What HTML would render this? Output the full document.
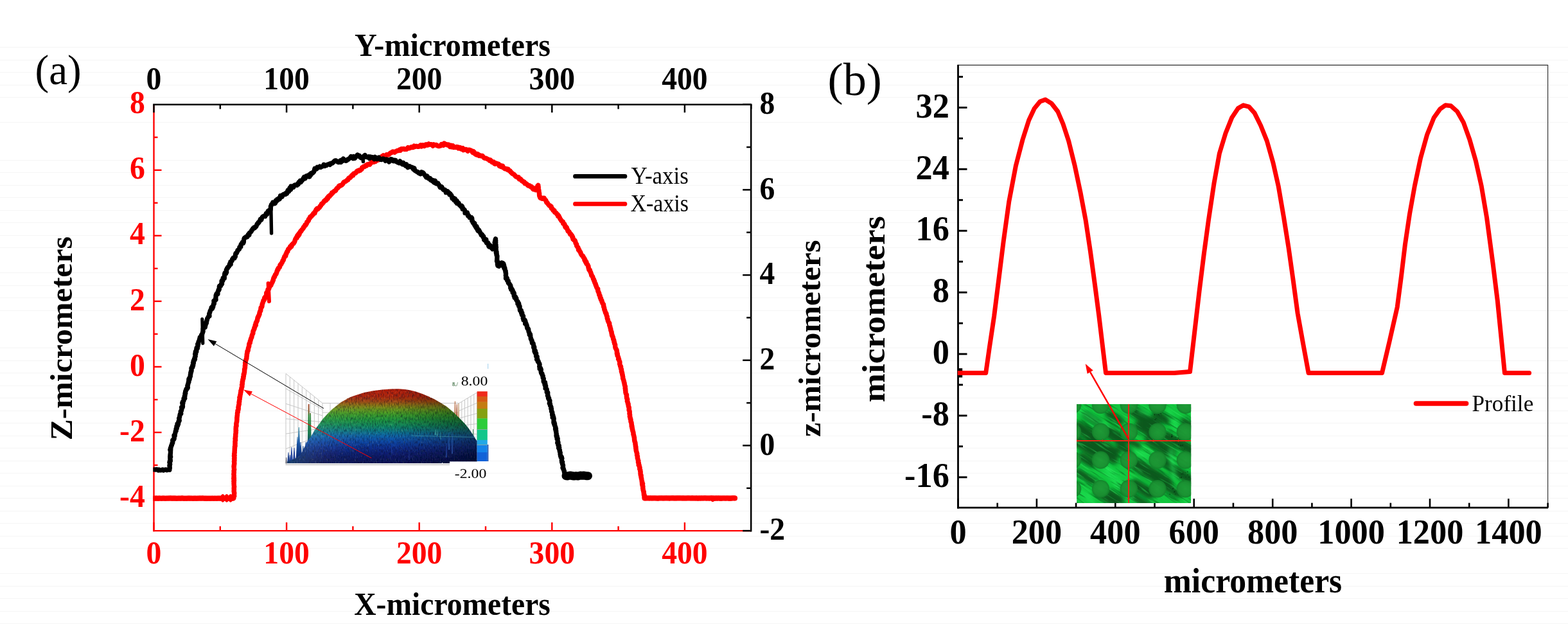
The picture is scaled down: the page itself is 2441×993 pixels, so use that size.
<!DOCTYPE html>
<html lang="en"><head><meta charset="utf-8"><title>Figure: surface profiles</title>
<style>html,body{margin:0;padding:0;background:#fff;}svg{display:block;}text{font-family:'Liberation Serif', 'DejaVu Serif', serif;}.tb{font-weight:bold;font-size:46px;}.lb{font-weight:bold;font-size:46px;}.lg{font-size:34px;}.pn{font-size:66px;}.sm{font-size:22.5px;}</style>
</head><body>
<svg width="2441" height="993" viewBox="0 0 2441 993" role="img" aria-label="Surface profile charts (a) and (b)">
<rect width="2441" height="993" fill="#fff"/>
<g id="stripes" stroke="#f5f5f5" stroke-width="1" shape-rendering="crispEdges">
<line x1="0" y1="73.5" x2="2441" y2="73.5"/>
<line x1="0" y1="93.5" x2="2441" y2="93.5"/>
<line x1="0" y1="112.5" x2="2441" y2="112.5"/>
<line x1="0" y1="132.5" x2="2441" y2="132.5"/>
<line x1="0" y1="151.5" x2="2441" y2="151.5"/>
<line x1="0" y1="190.5" x2="2441" y2="190.5"/>
<line x1="0" y1="249.5" x2="2441" y2="249.5"/>
<line x1="0" y1="268.5" x2="2441" y2="268.5"/>
<line x1="0" y1="288.5" x2="2441" y2="288.5"/>
<line x1="0" y1="307.5" x2="2441" y2="307.5"/>
<line x1="0" y1="327.5" x2="2441" y2="327.5"/>
<line x1="0" y1="346.5" x2="2441" y2="346.5"/>
<line x1="0" y1="366.5" x2="2441" y2="366.5"/>
<line x1="0" y1="385.5" x2="2441" y2="385.5"/>
<line x1="0" y1="424.5" x2="2441" y2="424.5"/>
<line x1="0" y1="444.5" x2="2441" y2="444.5"/>
<line x1="0" y1="463.5" x2="2441" y2="463.5"/>
<line x1="0" y1="483.5" x2="2441" y2="483.5"/>
<line x1="0" y1="541.5" x2="2441" y2="541.5"/>
<line x1="0" y1="561.5" x2="2441" y2="561.5"/>
<line x1="0" y1="580.5" x2="2441" y2="580.5"/>
<line x1="0" y1="600.5" x2="2441" y2="600.5"/>
<line x1="0" y1="619.5" x2="2441" y2="619.5"/>
<line x1="0" y1="639.5" x2="2441" y2="639.5"/>
<line x1="0" y1="658.5" x2="2441" y2="658.5"/>
<line x1="0" y1="678.5" x2="2441" y2="678.5"/>
<line x1="0" y1="697.5" x2="2441" y2="697.5"/>
<line x1="0" y1="717.5" x2="2441" y2="717.5"/>
<line x1="0" y1="736.5" x2="2441" y2="736.5"/>
<line x1="0" y1="756.5" x2="2441" y2="756.5"/>
<line x1="0" y1="775.5" x2="2441" y2="775.5"/>
<line x1="0" y1="795.5" x2="2441" y2="795.5"/>
<line x1="0" y1="814.5" x2="2441" y2="814.5"/>
<line x1="0" y1="834.5" x2="2441" y2="834.5"/>
<line x1="0" y1="853.5" x2="2441" y2="853.5"/>
<line x1="0" y1="892.5" x2="2441" y2="892.5"/>
<line x1="0" y1="912.5" x2="2441" y2="912.5"/>
<line x1="0" y1="931.5" x2="2441" y2="931.5"/>
<line x1="0" y1="951.5" x2="2441" y2="951.5"/>
<line x1="0" y1="970.5" x2="2441" y2="970.5"/>
</g>
<g id="chartA">
<g stroke="#f00" stroke-width="2.4" fill="none" stroke-linecap="butt">
<line x1="239.5" y1="162.7" x2="239.5" y2="827.3"/>
<line x1="238.3" y1="826.1" x2="1169.2" y2="826.1"/>
<line x1="239.5" y1="826.1" x2="239.5" y2="813.1"/>
<line x1="342.8" y1="826.1" x2="342.8" y2="819.1"/>
<line x1="446.1" y1="826.1" x2="446.1" y2="813.1"/>
<line x1="549.4" y1="826.1" x2="549.4" y2="819.1"/>
<line x1="652.7" y1="826.1" x2="652.7" y2="813.1"/>
<line x1="756" y1="826.1" x2="756" y2="819.1"/>
<line x1="859.3" y1="826.1" x2="859.3" y2="813.1"/>
<line x1="962.6" y1="826.1" x2="962.6" y2="819.1"/>
<line x1="1065.9" y1="826.1" x2="1065.9" y2="813.1"/>
<line x1="239.5" y1="775.1" x2="251.5" y2="775.1"/>
<line x1="239.5" y1="724" x2="245.5" y2="724"/>
<line x1="239.5" y1="673" x2="251.5" y2="673"/>
<line x1="239.5" y1="622" x2="245.5" y2="622"/>
<line x1="239.5" y1="570.9" x2="251.5" y2="570.9"/>
<line x1="239.5" y1="519.9" x2="245.5" y2="519.9"/>
<line x1="239.5" y1="468.9" x2="251.5" y2="468.9"/>
<line x1="239.5" y1="417.9" x2="245.5" y2="417.9"/>
<line x1="239.5" y1="366.8" x2="251.5" y2="366.8"/>
<line x1="239.5" y1="315.8" x2="245.5" y2="315.8"/>
<line x1="239.5" y1="264.8" x2="251.5" y2="264.8"/>
<line x1="239.5" y1="213.7" x2="245.5" y2="213.7"/>
</g>
<g stroke="#000" stroke-width="2.5" fill="none" stroke-linecap="butt">
<line x1="238.2" y1="162.7" x2="1170.5" y2="162.7"/>
<line x1="1169.2" y1="162.7" x2="1169.2" y2="827.4"/>
<line x1="239.5" y1="162.7" x2="239.5" y2="175.2"/>
<line x1="342.8" y1="162.7" x2="342.8" y2="169.7"/>
<line x1="446.1" y1="162.7" x2="446.1" y2="175.2"/>
<line x1="549.4" y1="162.7" x2="549.4" y2="169.7"/>
<line x1="652.7" y1="162.7" x2="652.7" y2="175.2"/>
<line x1="756" y1="162.7" x2="756" y2="169.7"/>
<line x1="859.3" y1="162.7" x2="859.3" y2="175.2"/>
<line x1="962.6" y1="162.7" x2="962.6" y2="169.7"/>
<line x1="1065.9" y1="162.7" x2="1065.9" y2="175.2"/>
<line x1="1169.2" y1="162.7" x2="1169.2" y2="169.7"/>
<line x1="1169.2" y1="826.1" x2="1156.2" y2="826.1"/>
<line x1="1169.2" y1="759.8" x2="1162.2" y2="759.8"/>
<line x1="1169.2" y1="693.4" x2="1156.2" y2="693.4"/>
<line x1="1169.2" y1="627.1" x2="1162.2" y2="627.1"/>
<line x1="1169.2" y1="560.7" x2="1156.2" y2="560.7"/>
<line x1="1169.2" y1="494.4" x2="1162.2" y2="494.4"/>
<line x1="1169.2" y1="428.1" x2="1156.2" y2="428.1"/>
<line x1="1169.2" y1="361.7" x2="1162.2" y2="361.7"/>
<line x1="1169.2" y1="295.4" x2="1156.2" y2="295.4"/>
<line x1="1169.2" y1="229" x2="1162.2" y2="229"/>
<line x1="1169.2" y1="162.7" x2="1156.2" y2="162.7"/>
</g>
<text transform="translate(239.5 138.9) scale(1.0 1.045)" font-size="47.7" font-weight="bold" fill="#000" text-anchor="middle">0</text>
<text transform="translate(239.5 876.6) scale(1.0 1.045)" font-size="47.7" font-weight="bold" fill="#f00" text-anchor="middle">0</text>
<text transform="translate(446.1 138.9) scale(1.0 1.045)" font-size="47.7" font-weight="bold" fill="#000" text-anchor="middle">100</text>
<text transform="translate(446.1 876.6) scale(1.0 1.045)" font-size="47.7" font-weight="bold" fill="#f00" text-anchor="middle">100</text>
<text transform="translate(652.7 138.9) scale(1.0 1.045)" font-size="47.7" font-weight="bold" fill="#000" text-anchor="middle">200</text>
<text transform="translate(652.7 876.6) scale(1.0 1.045)" font-size="47.7" font-weight="bold" fill="#f00" text-anchor="middle">200</text>
<text transform="translate(859.3 138.9) scale(1.0 1.045)" font-size="47.7" font-weight="bold" fill="#000" text-anchor="middle">300</text>
<text transform="translate(859.3 876.6) scale(1.0 1.045)" font-size="47.7" font-weight="bold" fill="#f00" text-anchor="middle">300</text>
<text transform="translate(1065.9 138.9) scale(1.0 1.045)" font-size="47.7" font-weight="bold" fill="#000" text-anchor="middle">400</text>
<text transform="translate(1065.9 876.6) scale(1.0 1.045)" font-size="47.7" font-weight="bold" fill="#f00" text-anchor="middle">400</text>
<text transform="translate(225.8 788.7) scale(1.0 1.045)" font-size="47.7" font-weight="bold" fill="#f00" text-anchor="end">-4</text>
<text transform="translate(225.8 686.6) scale(1.0 1.045)" font-size="47.7" font-weight="bold" fill="#f00" text-anchor="end">-2</text>
<text transform="translate(225.8 584.5) scale(1.0 1.045)" font-size="47.7" font-weight="bold" fill="#f00" text-anchor="end">0</text>
<text transform="translate(225.8 482.5) scale(1.0 1.045)" font-size="47.7" font-weight="bold" fill="#f00" text-anchor="end">2</text>
<text transform="translate(225.8 380.4) scale(1.0 1.045)" font-size="47.7" font-weight="bold" fill="#f00" text-anchor="end">4</text>
<text transform="translate(225.8 278.4) scale(1.0 1.045)" font-size="47.7" font-weight="bold" fill="#f00" text-anchor="end">6</text>
<text transform="translate(225.8 176.3) scale(1.0 1.045)" font-size="47.7" font-weight="bold" fill="#f00" text-anchor="end">8</text>
<text transform="translate(1182.4 840.3) scale(1.0 1.045)" font-size="47.7" font-weight="bold" fill="#000" text-anchor="start">-2</text>
<text transform="translate(1182.4 707.6) scale(1.0 1.045)" font-size="47.7" font-weight="bold" fill="#000" text-anchor="start">0</text>
<text transform="translate(1182.4 574.9) scale(1.0 1.045)" font-size="47.7" font-weight="bold" fill="#000" text-anchor="start">2</text>
<text transform="translate(1182.4 442.3) scale(1.0 1.045)" font-size="47.7" font-weight="bold" fill="#000" text-anchor="start">4</text>
<text transform="translate(1182.4 309.6) scale(1.0 1.045)" font-size="47.7" font-weight="bold" fill="#000" text-anchor="start">6</text>
<text transform="translate(1182.4 176.9) scale(1.0 1.045)" font-size="47.7" font-weight="bold" fill="#000" text-anchor="start">8</text>
<text transform="translate(704.5 87) scale(1.0 1.045)" font-size="48.2" font-weight="bold" fill="#000" text-anchor="middle">Y-micrometers</text>
<text transform="translate(704 957) scale(1.0 1.045)" font-size="47.6" font-weight="bold" fill="#000" text-anchor="middle">X-micrometers</text>
<text transform="translate(112.3 526.8) rotate(-90) scale(1.05 1.0)" font-size="47.5" font-weight="bold" fill="#000" text-anchor="middle">Z-micrometers</text>
<text transform="translate(1277 526.8) rotate(-90) scale(1.05 1.0)" font-size="47.5" font-weight="bold" fill="#000" text-anchor="middle">z-micrometers</text>
<text transform="translate(54.5 131.3)" font-size="65" font-weight="normal" fill="#000" text-anchor="start">(a)</text>
<defs><clipPath id="clipA"><rect x="238.4" y="162.7" width="930.7" height="663.4"/></clipPath></defs>
<g fill="none" stroke-linejoin="round" stroke-linecap="round">
<g clip-path="url(#clipA)">
<path d="M239.7 775.6 L241 775.5 L242.3 775.7 L243.6 775.2 L244.9 775.8 L246.2 776 L247.5 775.2 L248.8 775.4 L250.1 775.6 L251.4 775.9 L252.7 775.4 L254 775.3 L255.3 775.4 L256.6 775.8 L257.9 775.9 L259.2 775.6 L260.5 775.5 L261.8 775.5 L263.1 775.3 L264.4 775.3 L265.7 775 L267 775.4 L268.3 775.8 L269.6 775.3 L270.9 775.7 L272.2 775.3 L273.5 775.8 L274.8 776 L276.1 775.8 L277.4 775.6 L278.7 775.5 L280 775.6 L281.3 775.8 L282.6 775.2 L283.9 775.1 L285.2 775.7 L286.5 776 L287.8 775.7 L289.1 775.7 L290.4 776 L291.7 775.5 L293 775.5 L294.3 775.3 L295.6 775.7 L296.9 775.5 L298.2 775.5 L299.5 775.9 L300.8 776.1 L302.1 775.5 L303.4 775.8 L304.7 775.5 L306 775.9 L307.3 775.7 L308.6 775.4 L309.9 775.4 L311.2 775.2 L312.5 775.5 L313.8 775.4 L315.1 775.1 L316.4 775.4 L317.7 775.4 L319 775.9 L320.3 775.4 L321.6 776.2 L322.9 775.7 L324.2 775.9 L325.5 775.7 L326.8 776 L328.1 776 L329.4 775.7 L330.7 775.6 L332 775.9 L333.3 776 L334.6 775.6 L335.9 775.9 L337.2 776.1 L338.5 775.7 L339.8 775.4 L341.1 775.4 L342.4 775.7 L343.7 775.6 L345 775.8 L346.4 775.8 L347.7 775.3 L349.1 775.3 L350.4 775.4 L351.8 775.3 L353.1 775.8 L354.5 775.9 L355.9 775.9 L357.2 775.2 L358.6 775.7 L359.9 775.2 L361.3 775.2 L362.6 775.5 L363.9 774.9 L363.9 772.9 L364.7 772.2 L364.4 770.4 L364.5 769.2 L364.7 768.2 L364.7 766.9 L364.2 764.9 L364.3 763.8 L364.3 762.5 L364.4 761.2 L364.2 759.7 L364.4 758.7 L364.6 757.7 L364.3 755.9 L364.3 754.7 L364.1 753 L364.1 751.8 L364.3 750.8 L363.9 748.9 L364.4 748.2 L364.4 746.9 L363.8 744.8 L364.4 744.3 L364 742.4 L364.2 741.4 L364.2 740 L363.9 738.1 L364.1 737.1 L364.2 735.8 L364.3 734.6 L364.1 732.8 L364.4 732 L364.6 730.8 L364.4 729.1 L364.3 727.6 L364.1 725.8 L364.4 724.9 L364.4 723.5 L364.7 722.5 L364.8 721.2 L364.7 719.7 L364.5 718 L364.9 717.1 L364.9 715.7 L364.6 713.8 L365 713.1 L364.9 711.4 L364.5 709.5 L365.1 709 L364.7 706.9 L364.8 705.7 L365.2 704.8 L365.1 703.3 L365.2 701.9 L365.3 700.7 L365.3 699.3 L365.4 697.9 L365.5 696.5 L365.5 695.1 L366 694.4 L366 693 L365.9 691.4 L366.1 690.2 L366 688.5 L366 687.1 L366.2 685.9 L366.6 685 L366.1 682.8 L366.5 681.9 L366.4 680.2 L366.8 679.4 L366.7 677.7 L366.8 676.4 L366.9 675.1 L367.1 673.9 L367.3 672.8 L367.1 671 L367.5 670.1 L367.1 668 L367.3 666.8 L367.3 665.3 L367.4 664 L368 663.3 L368 662 L367.8 660.1 L368 658.7 L368.2 657.6 L368.6 656.5 L368.7 655.2 L368.8 653.7 L368.9 652.2 L368.8 650.4 L369.1 649.3 L369.1 647.7 L369.4 646.6 L369.5 645.2 L369.5 643.4 L369.7 642.1 L370.3 641.4 L370 639.2 L370.7 638.8 L370.9 637.5 L371.2 636.2 L371 634.1 L371.3 633 L371.5 631.6 L371.7 630.4 L372.2 629.4 L372.2 627.7 L372.1 625.9 L372.7 625.1 L372.6 623.3 L372.9 622 L373.2 620.8 L372.9 618.5 L373.6 618 L373.7 616.5 L373.9 615.1 L374.2 613.9 L374.5 612.6 L374.6 611 L375 610.1 L374.9 608.2 L375.5 607.4 L375.8 606.2 L375.9 604.6 L376.2 603.4 L376.7 602.6 L376.9 601.1 L376.6 598.8 L377.2 598.2 L377.3 596.6 L377.2 594.6 L377.7 593.6 L377.8 592.2 L378 590.6 L378.5 589.8 L378.9 588.8 L378.7 586.7 L379.3 585.9 L379.4 584.5 L379.3 582.6 L380 582.2 L380.1 580.6 L380.5 579.6 L380.5 577.9 L380.7 576.6 L380.6 574.7 L381.1 573.9 L381.3 572.6 L381.5 571.1 L381.4 569.3 L381.8 568.2 L381.8 566.5 L381.7 564.7 L382 563.4 L382.3 562.3 L382.7 561.2 L382.9 559.9 L383.4 559 L383.8 557.9 L383.9 556.4 L384 554.9 L384.3 553.7 L384.3 551.8 L384.5 550.5 L384.9 549.5 L385 547.8 L385.1 546.3 L386 546.1 L386.3 544.5 L386.4 542.6 L386.8 541.2 L387.3 540 L387.7 538.7 L387.8 536.8 L388 535.1 L388.5 534 L389.3 533.4 L389.3 531.2 L389.9 530.4 L390.2 528.7 L390.6 527.5 L391.1 526.1 L391.7 525.2 L392 523.6 L392.3 522.1 L392.8 520.9 L393.2 519.7 L393.8 518.7 L393.9 516.6 L394.2 515.1 L394.8 514.2 L395.3 512.8 L395.9 512 L396 509.9 L396.7 509.2 L397.1 507.8 L397.3 505.9 L398.3 505.8 L398.2 503.3 L398.6 501.9 L399.4 501.3 L399.7 499.7 L400.4 499.1 L400.7 497.4 L400.9 495.7 L401.2 494.2 L402 493.8 L402.2 492 L403 491.5 L403.3 489.9 L404 489.3 L404 487.1 L404.4 485.8 L404.8 484.5 L405.6 484 L405.8 482.3 L406 480.5 L406.2 478.8 L407 478.3 L407.7 477.6 L408 475.9 L408.1 473.9 L408.6 472.6 L409 471.3 L409.5 470.1 L409.9 468.5 L410.3 467.2 L411.2 466.9 L411.8 466 L411.8 463.7 L412.8 463.7 L413 461.8 L413.8 461.2 L414.4 460.2 L414.9 458.8 L414.8 456 L415.4 455 L416.1 454.2 L416.8 453.5 L417 450.8 L417.7 450 L418.7 449.7 L418.9 447.3 L419.7 446.6 L420.3 445.3 L421.1 444.7 L421.9 443.9 L422.1 441.5 L423 441.2 L423.6 439.9 L424.2 438.7 L424.7 436.9 L425.4 436.2 L425.6 434 L426.1 432.9 L426.6 431.3 L427.4 431 L427.9 429.5 L428.3 428.1 L428.9 427 L429.8 426.7 L430.2 425.2 L430.8 424 L431.1 422.2 L431.7 421.1 L432.1 419.5 L433 419.4 L433.3 417.2 L434.3 416.8 L435.1 416.1 L435.7 414.8 L436 412.6 L436.7 411.6 L437.7 411.3 L438.2 409.7 L439 408.8 L439.6 407.6 L440.1 405.7 L441 405.3 L441.5 403.8 L441.9 401.9 L442.6 400.8 L443 399 L443.9 398.4 L444.8 398.1 L445 395.5 L445.9 395 L446.2 393 L446.8 391.7 L447.8 391.4 L448.2 389.5 L448.7 387.9 L449.5 387 L450.6 386.8 L451.3 385.7 L451.8 383.5 L452.7 382.9 L453.9 383.3 L454.3 380.8 L455.2 380.5 L456 379.2 L457 379 L457.7 377.6 L458.5 376.6 L459.1 374.8 L459.6 372.9 L460.3 371.5 L461 370.1 L462.1 370.2 L462.5 367.7 L463.2 366.3 L464.5 366.9 L464.8 364.4 L466 364.7 L466.3 362.1 L467.3 361.5 L467.9 359.8 L469 359.7 L469.6 358.2 L470.4 357.2 L471.2 356.3 L472.1 355.4 L472.6 353.4 L473.5 353 L474.2 351.8 L474.8 350.3 L475.9 350.5 L476.5 348.9 L477.3 348.1 L477.7 345.8 L478.6 345.3 L479.4 344.1 L480.2 343.5 L480.6 341.2 L481.5 340.5 L482.2 339.6 L482.7 337.6 L483.7 337.3 L484.7 336.8 L485.4 335.3 L486.4 334.8 L487.2 333.8 L487.9 332.1 L488.8 331.4 L490 331.7 L490.5 329.3 L491.3 328.3 L492 326.5 L492.8 325.6 L493.7 324.6 L495 325.3 L495.8 324 L496.7 323.5 L497.6 322.7 L498.3 320.9 L499.3 320.5 L500 318.7 L500.7 317.3 L501.8 317.2 L502.6 316 L503.6 315.1 L504.3 313.3 L505.4 313.1 L506.2 311.6 L507.5 311.9 L508.4 310.8 L509 308.5 L510.3 308.8 L510.9 306.3 L511.8 305.3 L513.1 305.7 L513.8 303.9 L514.9 303.3 L515.9 302.5 L516.6 300.2 L517.8 300.6 L518.6 298.8 L519.7 298.3 L520.6 297.2 L521.8 297.2 L522.8 296.3 L523.6 294.4 L524.5 293.1 L525.6 292.7 L526.6 291.8 L527.4 290 L528.4 289 L529.7 289.4 L530.7 288.4 L531.8 288.1 L532.8 287.2 L533.8 286.2 L534.6 284.4 L535.6 283.2 L536.7 282.8 L537.8 282.4 L538.8 281.7 L539.9 280.9 L540.8 279.7 L542 279.7 L542.7 277.4 L543.9 276.6 L545.1 276.5 L546.2 275.4 L547.2 273.5 L548.3 272.5 L549.6 272.9 L550.5 270.3 L551.6 269.7 L552.9 269.8 L554 269 L555 267.3 L556.1 266.1 L557.2 265.6 L558.5 266.1 L559.5 264.7 L560.8 265.1 L561.9 263.9 L563 263.5 L563.8 260.6 L565 260.3 L566.1 259.2 L567.3 259.5 L568.4 258.6 L569.5 257.3 L570.7 257.8 L571.7 256.1 L572.9 256 L574.2 255.3 L575.6 256.1 L576.8 254.4 L578 253.3 L579.2 252.1 L580.5 252.3 L581.8 252.2 L583.1 251.7 L584.3 251.6 L585.4 250.7 L586.4 248.9 L587.4 248 L588.8 249 L589.9 248.3 L590.9 246.7 L592.1 246.5 L593.2 244.9 L594.3 243.6 L595.5 242.8 L596.7 241.9 L598.2 242.8 L599.5 242.8 L600.7 242.2 L601.9 240.7 L603.2 240.9 L604.5 240.9 L605.7 240.1 L606.9 238.9 L608.1 237.9 L609.4 237.7 L610.6 236.4 L611.8 235.9 L613.2 236.7 L614.6 237.2 L615.7 235.9 L617 235.3 L618.2 234.7 L619.5 234.3 L620.7 234.5 L622 233.1 L623.4 234 L624.7 231.7 L626 231.8 L627.4 232 L628.7 231.5 L630.1 232.4 L631.4 232.2 L632.7 232.3 L633.9 231.3 L635.1 229.6 L636.5 230.8 L637.8 230.5 L639 229.9 L640.3 228.9 L641.8 229.5 L643.2 229.5 L644.6 227.2 L646.1 228.5 L647.5 227.5 L648.9 227.6 L650.4 228.3 L651.9 228.3 L653.3 227.2 L654.7 226 L656.2 227.8 L657.5 225.9 L659 226.4 L660.5 227.3 L661.8 225.5 L663.2 224.9 L664.7 226.1 L666.2 225.8 L667.5 224 L668.8 224.7 L670.1 225 L671.4 224.7 L672.7 225.2 L673.9 227.1 L675.3 225 L676.5 225.8 L677.8 225.7 L679.2 225.4 L680.5 226.6 L681.9 227.2 L683.3 227.5 L684.6 227 L686.1 227 L687.3 224.5 L688.8 224.8 L690.3 226.1 L691.6 223.2 L692.9 224.1 L694.2 225 L695.6 224.8 L696.8 225.9 L698.2 225.1 L699.5 226 L700.6 228.3 L702.2 226.5 L703.6 228.7 L705.1 227.1 L706.4 229.5 L707.9 229.1 L709.3 229.5 L710.9 228.6 L712.2 228.8 L713.5 230.8 L715 229.5 L716.4 229.7 L717.6 231.7 L719 232.3 L720.5 230.7 L721.6 233.6 L723 232.9 L724.3 232.8 L725.6 232.4 L726.9 233.4 L728.1 235.1 L729.5 233.3 L730.9 233.3 L732.1 233.7 L733.4 234.2 L734.6 235.3 L735.7 237.3 L737.1 235.8 L738.3 236.9 L739.4 239.5 L740.6 240.3 L741.9 241 L743.3 239.6 L744.6 240.4 L745.7 242.3 L747.1 241.7 L748.3 242.8 L749.6 242.5 L751 242.6 L752.1 244 L753.3 245.5 L754.6 246.2 L755.9 246.2 L757.2 246.6 L758.5 247.5 L759.8 247.9 L761 248.6 L762.2 250 L763.6 249.2 L764.8 250.8 L765.9 252.3 L767.2 252.9 L768.6 252.1 L769.6 254.7 L770.9 255.2 L772.4 254.1 L773.6 254.8 L774.9 255.1 L776.2 255.2 L777.2 258.1 L778.6 257.4 L779.7 259.2 L781.2 258 L782.5 258.4 L783.5 261.1 L784.8 261.6 L786 262.7 L787.3 262.6 L788.6 262.8 L789.8 264 L791.1 263.3 L792 265.2 L793.1 265.8 L794.2 266 L795.1 268 L796.2 268.4 L797.1 269.8 L798.2 270.5 L799.3 271 L800.4 271.7 L801.4 272.8 L802.5 274.3 L803.6 275 L804.8 275.5 L806 276.2 L807.3 275.9 L808.2 278.6 L809.5 278 L810.7 278.8 L811.6 280.6 L812.7 281.9 L813.9 281.8 L815 283.3 L816.2 283.2 L817.1 285.6 L818.4 285.3 L819.5 286.2 L820.6 286.9 L821.6 288.3 L822.7 289.2 L824.1 288.7 L825.2 289.4 L826.2 290.8 L827.5 290.5 L828.5 292.2 L829.5 294 L830.7 294.7 L832.5 293.2 L834.1 295.6 L835.8 294.5 L836.6 293.7 L836.7 291.1 L837 289.3 L837.8 288.4 L837.7 290.3 L838.2 291.3 L838 293.3 L838.3 294.6 L838.7 295.7 L838.9 297.1 L839 298.7 L839.3 300 L839.6 301.4 L839.6 303.1 L839.8 304.8 L840.2 305.8 L840.8 306.7 L840.9 307.9 L842.3 308.4 L843.8 309.2 L845.4 308.2 L847.1 308.3 L847.9 310 L848.7 311 L849.7 311.5 L850.3 313.5 L851 315.2 L852 315.4 L852.7 316.8 L853.5 317.9 L854.4 318.9 L855.2 320 L856.3 320 L857 321.6 L858.1 321.6 L858.5 324.3 L859.5 324.4 L860.3 325.6 L861 327.4 L862.1 327.1 L863 327.8 L863.5 330.2 L864.4 330.9 L865.5 331.1 L866.3 332.1 L867 333.5 L868.1 333.7 L868.6 336.2 L869.8 335.9 L870.5 337.4 L871.3 339 L872 340.6 L872.8 341.6 L873.6 343 L874.4 344.1 L875.4 344.7 L876.4 345.2 L876.8 348 L877.6 348.6 L878.7 348.7 L879.2 350.6 L879.7 352.3 L880.3 353.8 L881.5 353.3 L882.3 354.3 L882.8 356.4 L883.5 357.4 L884 359.4 L884.8 360.3 L885.8 360.5 L886.5 361.7 L887.1 363.1 L887.7 364.7 L888.9 364.5 L889.6 365.9 L890.5 366.5 L890.8 368.9 L891.8 369.2 L892 372.2 L893 372.6 L893.7 373.8 L894.7 373.9 L895.4 375.3 L895.9 376.9 L896.2 378.7 L896.9 379.4 L897.6 380.2 L897.7 382.6 L898.4 383.4 L899 384.4 L899.8 385.2 L900.3 386.5 L900.5 388.6 L901.5 388.5 L902 390.3 L902.7 391.6 L903.5 392.2 L904 394.1 L904.6 395.5 L905.3 396.6 L906.1 397.7 L907 398 L907.8 398.9 L908.3 400.7 L909.1 401.5 L909.8 402.4 L910 404.7 L911 404.8 L911.3 406.9 L911.8 408.3 L912.9 408.1 L913.1 410.6 L914 411 L914.7 411.9 L915.2 413.2 L915.9 414.3 L916 416.4 L916.5 417.5 L916.8 419.4 L917.3 420.5 L918.3 420.4 L918.6 422.1 L919.1 423.3 L919.7 424.3 L920.1 425.7 L920.6 426.9 L920.8 428.7 L921.6 429.3 L922.3 430.1 L922.8 431.4 L923.3 433 L923.7 434.3 L924.5 435 L924.7 437 L925.5 437.6 L925.8 439.6 L926.3 440.8 L927.1 441.4 L927.3 443.6 L928 444.3 L928.3 445.9 L928.8 447.1 L929.3 448.2 L930 449 L930.7 449.6 L930.7 452 L931.1 453.5 L931.7 454.3 L932.1 455.8 L932.7 456.6 L932.8 458.8 L933.4 459.8 L934.1 460.3 L934.2 462.5 L934.6 464 L935.5 464.3 L935.5 466.5 L936.3 467 L936.9 467.9 L937 469.9 L937.8 470.6 L938.1 472.3 L938.7 473.1 L939.5 473.6 L939.6 475.6 L939.8 477.5 L940.4 478.5 L940.7 480 L940.9 481.9 L941.5 482.7 L941.9 484.1 L942.3 485.6 L942.6 487.1 L943.5 487.4 L944 488.5 L944.1 490.6 L944.6 491.7 L945.2 492.8 L945.2 495 L945.6 496.3 L946.3 497.2 L946.4 499.2 L946.9 500.3 L947.4 501.5 L948.1 502.3 L948.7 503.3 L948.7 505.6 L949.1 507 L949.6 507.8 L949.9 509.3 L950.2 510.8 L950.7 511.7 L950.8 513.7 L951.2 514.9 L951.6 516 L952.1 517 L952.1 519 L952.6 520.1 L952.6 522 L953.4 522.5 L953.7 524 L954.3 524.9 L954.5 526.4 L954.8 528 L955.4 528.7 L955.8 530 L955.9 532 L956.5 532.9 L956.6 534.7 L957.2 535.6 L957.6 536.8 L957.7 538.8 L957.9 540.6 L958.3 541.9 L958.9 542.8 L959.4 543.9 L960 544.8 L960.2 546.4 L960.5 548 L960.4 550.4 L961.3 550.8 L961.1 553.4 L961.8 554.1 L962.2 555.3 L962.7 556.4 L962.6 558.6 L963.5 558.8 L963.6 560.5 L964.1 561.6 L964.6 562.5 L964.9 563.9 L964.7 566.4 L965.1 567.5 L965.5 568.8 L965.7 570.3 L966.6 570.6 L966.5 572.6 L966.7 574 L967.4 574.6 L967.5 576.1 L967.4 578.1 L968.1 578.6 L968.1 580.4 L968.7 580.9 L968.7 582.9 L969.2 583.7 L969.3 585.3 L969.7 586.6 L969.7 588.7 L970.1 589.9 L970.6 590.9 L970.9 592.5 L971.4 593.6 L971.5 595.4 L972.1 596.1 L972.1 597.7 L972.4 599.1 L972.7 600.2 L973.2 601.2 L973.3 602.7 L973.2 604.6 L973.7 605.5 L973.6 607.5 L973.9 608.6 L973.9 610.5 L974.2 611.7 L974.6 612.9 L975.1 613.7 L975.5 614.7 L975.4 616.8 L975.6 618.5 L975.7 620.1 L976.4 620.6 L976.7 621.9 L976.4 624.3 L976.8 625.3 L977.3 626.3 L977.4 627.9 L978.1 628.5 L978.1 630.3 L978.3 631.7 L978.5 632.9 L979.1 633.7 L979.3 635 L979.2 636.9 L979.2 638.6 L979.8 639.1 L980.1 640.3 L980.2 641.7 L980 643.9 L980.4 644.8 L980.6 646.3 L980.4 648.3 L980.8 649.2 L981.2 650.2 L981.2 652.1 L981.9 652.6 L982 654.3 L982 656.2 L982.6 656.8 L983 657.9 L983 659.8 L983.4 660.9 L983.2 663.1 L984 663.5 L983.8 665.8 L984.4 666.6 L984.4 668.4 L984.9 669.3 L985 670.9 L985.5 671.8 L985.8 673 L986 674.6 L986 676.3 L986.5 677.1 L986.8 678.3 L987 679.8 L987.4 680.7 L987.5 682.4 L987.6 684 L987.8 685.4 L988 686.8 L988.4 687.8 L988.8 688.9 L989 690.2 L989.1 692 L989.4 693.1 L989.4 694.8 L989.9 695.8 L989.8 697.7 L990.1 698.9 L990.2 700.3 L990.4 701.8 L990.8 702.9 L991.1 704.1 L991.4 705.2 L991.8 706.2 L991.6 708.4 L992 709.4 L992.5 710.2 L992.3 712.5 L992.7 713.5 L993 714.9 L993.3 716.1 L993.8 717.1 L993.5 719.6 L994.2 719.9 L994.4 721.5 L994.2 723.6 L995.1 723.8 L995.2 725.5 L995.5 726.7 L996 727.7 L995.8 730 L996.3 730.8 L996.8 731.7 L996.7 733.6 L997.2 734.4 L997 736.6 L997.2 738.1 L997.3 739.5 L998.1 739.9 L997.9 742.1 L998.3 743.1 L998.4 744.6 L998.8 745.8 L999 747.1 L999.3 748.3 L999.3 750.1 L999.9 750.7 L999.6 753 L1000.5 753.2 L1000 755.7 L1000.7 756.2 L1000.9 757.5 L1000.7 759.7 L1001.1 760.8 L1001.1 762.4 L1001.5 763.4 L1001.7 764.8 L1002.3 765.4 L1002.2 767.4 L1002.5 768.5 L1002.4 770.3 L1003.2 770.6 L1003.3 772.1 L1003 774.1 L1003.2 775.6 L1004.6 775.1 L1005.9 775.4 L1007.2 775.2 L1008.5 775.1 L1009.8 775.3 L1011.1 775.5 L1012.4 775 L1013.7 775.3 L1015 775.6 L1016.3 775.2 L1017.6 775.4 L1018.9 775.2 L1020.2 775.3 L1021.5 775.6 L1022.8 775.7 L1024.1 775.9 L1025.4 775.5 L1026.8 775.2 L1028.1 775.3 L1029.4 775.1 L1030.7 775.2 L1032 775.5 L1033.3 775.5 L1034.6 775.2 L1035.9 775.2 L1037.2 775.1 L1038.5 775.2 L1039.8 775.4 L1041.1 775.2 L1042.4 775.7 L1043.7 775.4 L1045 775.1 L1046.3 775.2 L1047.6 774.8 L1048.9 775.5 L1050.2 775.5 L1051.5 775.2 L1052.8 775.6 L1054.1 775.1 L1055.4 775 L1056.7 774.9 L1058 774.9 L1059.3 775.3 L1060.6 775.3 L1061.9 775.4 L1063.2 774.9 L1064.5 775.6 L1065.8 775.4 L1067.1 775.4 L1068.4 775.5 L1069.7 775.3 L1071 775 L1072.3 775.1 L1073.7 775.3 L1075 775.4 L1076.3 775.6 L1077.6 774.9 L1078.9 775.6 L1080.2 775.5 L1081.5 775.4 L1082.8 775.7 L1084.1 775 L1085.4 775.7 L1086.7 775.9 L1088 775.2 L1089.3 775.6 L1090.6 775.8 L1091.9 775.1 L1093.2 775.6 L1094.5 775.6 L1095.8 775.2 L1097.1 774.9 L1098.4 775 L1099.7 775.7 L1101 775.4 L1102.3 775.4 L1103.6 775.5 L1104.9 775.8 L1106.2 775.1 L1107.5 774.8 L1108.8 775.8 L1110.1 775.3 L1111.4 775.4 L1112.7 776.1 L1114 775.4 L1115.3 775.2 L1116.6 775.9 L1117.9 775.3 L1119.2 775.3 L1120.5 776 L1121.9 775.4 L1123.2 776 L1124.5 775.5 L1125.8 775.5 L1127.1 775.4 L1128.4 775.7 L1129.7 775.7 L1131 775.5 L1132.3 775.5 L1133.6 775.4 L1134.9 775.9 L1136.2 776 L1137.5 775.9 L1138.8 775.8 L1140.1 775.1 L1141.4 775.1 L1142.7 775 L1144 775.5" stroke="#f00" stroke-width="7.5"/>
<path d="M239.7 775.6 H363 M1004.5 775.4 H1144" stroke="#f00" stroke-width="8.2"/>
<ellipse cx="346.8" cy="775.3" rx="3.6" ry="6.4" fill="#f00" stroke="none"/>
<ellipse cx="352.9" cy="775.3" rx="3.6" ry="6.4" fill="#f00" stroke="none"/>
<ellipse cx="358.9" cy="775.3" rx="3.6" ry="6.4" fill="#f00" stroke="none"/>
<ellipse cx="1109.5" cy="776.6" rx="3" ry="4.6" fill="#f00" stroke="none"/>
<path d="M417.6 441 L419 469" stroke="#f00" stroke-width="6"/>
<path d="M239.7 730.9 L241 730.9 L242.4 731 L243.7 730.7 L245.1 730.8 L246.4 731.9 L247.7 731 L249.1 731.9 L250.4 731.9 L251.8 731.4 L253.1 730.9 L254.4 732.1 L255.8 731.3 L257.1 731.1 L258.4 730.9 L259.8 731.9 L261.1 731.2 L262.5 730.9 L263.9 731.2 L263.9 729.3 L264.4 728.4 L264.1 726.4 L263.9 724.3 L264.5 723.5 L264.7 722.2 L263.9 719.6 L264.6 719.2 L264.4 717.6 L265.3 717.5 L265.3 716.1 L264.8 713.9 L264.9 712.7 L264.7 711.1 L265.7 711.1 L264.9 708.5 L265.3 707.7 L265.2 706.2 L265.5 705.3 L265.5 703.9 L265.6 702.7 L264.8 700 L265.8 699.9 L265.5 697.2 L266.1 696.5 L266.4 694.8 L266.7 693.6 L267.4 693 L267.7 691.5 L267.9 689.9 L268.7 689.5 L268.9 687.7 L268.7 685.2 L269.3 684.6 L270 683.9 L270.9 683.8 L271.2 682.5 L271.2 680.4 L271 677.8 L272.2 678.3 L272.1 676 L272.5 674.9 L272.9 673.7 L273.1 672.1 L273.4 670.6 L274.2 670.4 L274 667.9 L274.4 666.7 L275.3 666.5 L274.9 663.7 L275.4 662.6 L276.5 662.8 L276.1 659.9 L277.4 660.7 L277.7 659.3 L277.8 657.4 L277.9 655.7 L278.8 655.5 L279.3 654.5 L278.6 651.1 L279.2 650.4 L279.6 649.1 L279.8 647.5 L280 646.1 L280.3 644.6 L281.2 644.6 L281.8 643.9 L281.2 640.6 L281.6 639.5 L282.4 639.4 L282.7 638 L282.9 636.6 L282.6 634.1 L283.7 634.5 L284.3 633.8 L284.5 632.4 L284.3 630.2 L283.8 627.3 L284.9 627.8 L284.5 625 L285.2 624.7 L285.9 624.1 L286.2 622.6 L286 620.2 L286.7 619.7 L287.8 620.1 L287.2 616.7 L288 616.3 L288 614.3 L288 612.3 L288.8 612.1 L288.6 609.4 L289 608.3 L289.7 607.8 L289.8 606.1 L290.3 605 L291.3 605.2 L291.9 604.3 L292.4 603.2 L291.8 600.1 L292.5 599.4 L292.6 597.7 L293.1 596.8 L293.3 594.9 L294 594.4 L293.8 592 L293.9 590.2 L295.1 590.6 L294.9 588.2 L295.7 587.8 L295.8 586.1 L296.5 585.6 L296.3 583.4 L296.8 582.4 L296.7 580.3 L297.4 579.8 L297.3 577.8 L298.1 577.5 L298.1 575.5 L297.9 573.2 L298.4 572.2 L299 571.5 L299.8 571.4 L299.7 569.1 L300.6 569.1 L300.8 567.6 L300.5 564.9 L301.4 564.8 L301.1 562.2 L301.5 561 L302.4 560.9 L302.4 558.8 L303.5 558.9 L303.3 556.6 L303.5 554.9 L304.3 554.6 L303.7 551.3 L304.7 551.3 L304.2 548.2 L304.5 546.9 L305.8 547.5 L305.9 545.6 L305.8 543.1 L306.1 541.5 L307.4 542.2 L307.5 540 L308 539 L307.7 535.9 L308.6 535.8 L308.8 533.7 L309 532.1 L309.6 531 L310.3 530.3 L310.4 528.3 L310.9 527.1 L311.2 525.3 L312.4 526 L312.7 524.4 L313.4 523.7 L313.5 521.6 L314.5 521.6 L314.7 519.6 L315.2 518.6 L315.6 517 L316.1 516 L316.1 513.6 L316.2 511.5 L316.8 510.4 L317.5 509.8 L317.9 508.5 L319.3 509.5 L319.3 507 L320 506.4 L319.6 503 L320.5 502.9 L321.4 502.8 L321.6 500.8 L321.8 499.1 L322.4 498.1 L322.6 496 L323.3 495.1 L323.9 494 L324.5 493.2 L325 491.8 L326 491.7 L325.7 488.3 L326.2 487.2 L326.8 485.9 L327.1 484.2 L327.7 483.2 L328.2 481.9 L329 481.3 L329.1 478.9 L330.6 480.1 L330.5 477.5 L331.6 477.9 L331.9 476 L332.3 474.6 L332.5 472.5 L333.4 472.3 L332.9 468.5 L334 469 L334.3 467.1 L335.3 467.3 L336.1 466.6 L335.8 463.5 L336.1 462 L336.1 459.8 L336.6 458.7 L337 457.4 L337.9 457.2 L339 457.6 L338.9 455 L339.3 453.6 L339.9 452.8 L340.1 451.1 L341.1 451 L341.4 449.4 L341.3 446.2 L341.7 444.9 L342.7 444.9 L343.7 444.8 L344 443.1 L344.5 441.6 L345.6 441.9 L345 437.7 L345.6 436.5 L346.8 437.1 L347 434.9 L347.2 432.8 L348.3 433.1 L349.3 433.2 L349.3 430.4 L349.5 428.5 L349.7 426.3 L350.1 424.8 L351.6 426 L351.7 423.6 L352.7 423.7 L352.3 420 L353.1 419.4 L353.4 417.7 L354.4 417.5 L354.6 415.6 L355.5 415.3 L356.3 414.8 L357 413.7 L357.3 411.7 L357.8 410.2 L359.2 411.5 L358.9 407.6 L359.9 407.5 L360.5 406.3 L361.3 405.8 L361.6 403.5 L362.4 403.2 L362.9 401.5 L364 401.7 L365 401.8 L365.4 399.7 L366.4 399.3 L366.5 396.1 L367 394.2 L368.2 394.4 L368.8 392.7 L369.5 391.5 L370 389.5 L371 389.1 L371.8 388.2 L372.7 387.6 L372.9 384.6 L373.8 383.9 L374.9 384 L375 381 L375.7 379.6 L376.7 379.1 L377.2 377.3 L378.6 378.4 L379.3 377.1 L379.5 374 L379.9 371.8 L380.7 370.1 L381.8 369.9 L382.7 368.6 L384 369 L385.1 368.7 L385.7 366.4 L386.5 364.7 L387.9 365.8 L388.3 362.5 L389.3 361.9 L390.3 361.1 L391.2 360.4 L391.8 358.1 L392.9 357.7 L393.6 355.7 L394.7 355.7 L395.5 354 L396.8 354.6 L397.6 353.1 L398.7 352.9 L399.4 350.9 L400.1 348.8 L401.2 348.5 L401.8 346.4 L403 346.4 L403.7 344.6 L404.7 343.5 L405.3 341.1 L406.8 342.2 L407.5 339.8 L408.3 338 L409.3 336.9 L410.4 336.5 L411.5 336 L412.9 336.7 L413.6 334.2 L414.4 332 L415.9 333.3 L416.7 331.2 L417.3 328.3 L418.3 327.9 L419 327.3 L419.8 326.9 L420.8 327 L421.3 325.8 L421.4 323.5 L421.5 321 L422.1 320.2 L422.5 318.5 L423.8 317.3 L424.8 315 L426.3 316.6 L427.7 316.8 L428.9 315.6 L429.4 312.1 L430.8 312.7 L431.5 310.2 L432.9 311.1 L433.7 309.1 L435.2 309.8 L436 308.2 L436.5 304.7 L437.7 304.6 L439.1 306.2 L439.8 303.6 L440.8 302.7 L441.8 302.2 L443.2 302.7 L444.4 302.6 L445.1 300.4 L446.6 301.2 L447.3 299 L448 296.3 L449.6 298.1 L450.2 295.2 L451 292.5 L452.6 295.1 L453.1 290 L454.5 291.5 L455.6 290.4 L456.9 291.3 L457.8 288.7 L458.9 287.9 L460.1 288.1 L461.1 287.5 L462.5 288.2 L463.3 286.3 L464.5 286.6 L465.1 283.5 L466.2 282.8 L467.1 281.4 L468.6 283.3 L469.5 281.7 L470.5 280.8 L471.4 279.1 L472.4 277.4 L473.4 275.6 L474.9 278 L475.9 276.1 L476.8 273.8 L478 273.9 L479.1 273.1 L480.6 275.1 L481.8 275 L482.3 271.5 L483.7 272.6 L484.3 269.7 L485.6 269.9 L486.7 269.5 L487.5 267.7 L488.6 267.4 L489.3 264.9 L490 262.3 L491.6 263.5 L492.9 262.9 L493.9 260.3 L495.3 260.8 L496.6 260.5 L497.8 259.2 L499.3 260.4 L500.5 259.7 L501.8 258.9 L503.1 258.7 L504.1 256.2 L505.7 258.4 L506.9 257.4 L508.2 257.6 L509.4 256.3 L510.7 255.9 L512.1 255.2 L513.6 256.3 L514.9 254.1 L516.4 254.3 L517.8 253.8 L519.1 252.2 L520.5 250.7 L521.7 249.8 L523 249.9 L524.4 251.2 L525.7 252.1 L527.1 252.7 L528.3 252.2 L529.5 250.2 L530.9 252.5 L532 249 L533.3 250.4 L534.4 247 L535.9 249.8 L537.1 249.2 L538.4 250.3 L539.7 249.8 L540.9 248.1 L542.3 248 L543.7 246.7 L545.1 245.5 L546.4 243.6 L547.9 245 L549.4 246.6 L550.7 243.5 L552.3 246.4 L553.7 244 L555.1 242.9 L556.5 241 L558 243.1 L559.4 242.4 L560.9 244.9 L562.3 246 L563.8 245.8 L565.2 244.1 L566.7 242.7 L568.1 241.5 L569.5 244.4 L571 244 L572.4 244.9 L573.9 243.8 L575.3 246.6 L576.8 244 L578.2 244.9 L579.7 244.6 L581.1 246.2 L582.4 247.6 L584 244.4 L585.3 246.9 L586.7 247.8 L588.2 245.7 L589.7 245.1 L591 247.2 L592.2 248.3 L593.5 248.5 L594.9 248 L596.2 247 L597.5 247.3 L598.7 248.2 L599.9 250.3 L601.5 248 L602.9 248.3 L604.3 250.1 L605.7 251.9 L607.3 248.3 L608.7 247.7 L610.2 248.1 L611.5 250.4 L612.9 250.8 L614.5 249.2 L615.9 249.6 L617.2 251.8 L618.7 252.6 L620.1 253.2 L621.3 253.8 L622.8 250.9 L623.9 253 L625.1 254.7 L626.3 255.6 L627.8 253.3 L628.9 256.2 L630.2 255.7 L631.3 257.9 L632.8 255.9 L633.8 259 L634.9 260.6 L636.4 259.7 L637.8 258.7 L639 259.7 L640.3 260.1 L641.5 260.4 L642.6 261.1 L643.5 263.5 L645 261.9 L645.7 265.3 L646.9 265.8 L648 266.7 L649.1 267.3 L650.3 267.6 L651.3 269 L652.4 269.7 L653.7 268.9 L654.7 270.8 L656.3 267.7 L657.4 268.2 L658.6 268.8 L659.6 270.1 L660.6 271.6 L661.6 272.8 L662.6 274.6 L663.6 275.9 L665.1 274.2 L666 276.5 L667 277.8 L668.2 277.9 L669.5 277.5 L670.3 280.2 L671.6 279.6 L672.6 281.3 L673.9 280.8 L674.8 283.2 L675.9 284.1 L677.4 281.4 L678.1 285.2 L679.2 285.9 L680.6 284.8 L681.8 285 L682.5 287.3 L683.6 287.7 L684.3 290 L685.2 291.6 L686.6 290.4 L687.7 290.9 L688.5 292.6 L689.4 294.2 L690.3 295.5 L691.5 295.6 L692.7 295.5 L693.6 296.6 L694.3 299.6 L695.6 299 L697 297.9 L697.8 300 L698.9 300 L699.6 302.7 L701 301.6 L701.7 303.6 L702.8 304 L703.4 306.2 L704 308.8 L705.3 307.9 L706.4 308.2 L706.8 311.4 L708.4 309.4 L709.1 311.5 L709.6 314.3 L711.2 312.5 L711.5 316.5 L712.7 316.1 L714 315.9 L714.7 317.7 L715.5 319.4 L716.6 320 L717.5 321.3 L718.8 320.4 L719.7 321.7 L720.1 325.3 L721.3 324.8 L722 326.3 L723.1 326.3 L723.7 328.3 L724 331.6 L725.1 331.5 L726.2 331.7 L727.5 331.1 L728 333.3 L728.5 335.6 L729.7 335.4 L730.4 336.8 L730.9 338.6 L732 338.6 L732.8 339.4 L734.1 338.6 L734.8 339.9 L734.7 343.7 L735.7 343.9 L736.1 346.5 L736.9 347.3 L737.6 348.5 L738.9 347.7 L739 351 L739.9 351.6 L740.5 353.4 L741.9 352.3 L742.1 355.4 L743.2 355.3 L743.5 358.2 L744.3 359.4 L745.8 358.2 L746.3 360.2 L747.2 361 L747.7 362.9 L748.7 363.4 L749.1 365.7 L750.5 365 L751.2 366.2 L751.7 368.4 L752.8 368.2 L753.3 370.4 L753.6 373.1 L754.4 373.9 L755.9 372.4 L756.9 372.7 L756.9 376.6 L757.5 378.3 L758.6 378.3 L759.8 378 L760.4 379.4 L760.7 382.9 L761.5 384 L763.1 381.9 L763.8 383.5 L764.4 385.4 L765.3 385.9 L766.8 387.7 L768 385.3 L769.6 386.2 L769.1 382.9 L769.7 382.2 L770.5 381.9 L770.5 380.1 L770.1 377.6 L770.4 376.3 L771.2 376 L771.1 374 L771.3 372.6 L771.5 371.8 L771.2 372.8 L770.8 374.7 L771.8 374.7 L771.4 376.6 L771.8 377.5 L771.5 379.4 L771.3 381.1 L772.1 381.3 L771.7 383.3 L771.5 385 L772.4 385 L771.7 387.5 L772.3 388.1 L772.3 389.4 L772.3 390.9 L772.2 392.5 L773.1 392.5 L772.6 394.6 L773.3 395 L773 396.8 L773.4 397.9 L774 398.3 L773.9 400.3 L773.8 402.2 L773.7 404.1 L773.5 406.2 L774.4 406.4 L774.4 408 L774.4 409.7 L774.4 411.5 L774.9 413.7 L776.6 414.4 L778.1 411.3 L779.3 410.8 L780.8 413 L781.1 408.9 L782.4 409.4 L783.3 409.8 L783.5 409.9 L784 410.9 L783.7 413.4 L784.7 413.3 L784.7 415.2 L784.7 417.1 L785.8 416.9 L786 418.5 L786.2 420 L786.5 421.2 L787.2 421.9 L787 423.9 L787.5 424.8 L787.6 426.6 L787.3 428.7 L787.7 429.7 L787.5 433.1 L788.9 432.3 L789.5 433.5 L789.5 436.3 L790.2 437.5 L791.3 437.5 L791.3 440.4 L792.1 441 L793 441.5 L793.4 443.3 L794.4 443.5 L794.9 444.9 L794.7 447.9 L795.7 448 L795.7 450.6 L797 449.9 L797.6 451.1 L798.2 452.2 L798 455.3 L798.7 456 L799.9 455.6 L800.4 456.9 L800.1 460.3 L801 460.7 L801.1 463.1 L802.6 462.1 L802.6 464.6 L803.8 464.2 L803.8 466.9 L804.6 467.6 L805.1 468.9 L806.1 469.2 L805.9 472.6 L807.3 471.6 L807.8 472.9 L807.6 476 L808.6 475.7 L809.1 477 L809.1 479.4 L809.3 481.2 L809.5 483.2 L810.1 483.9 L811.4 483.2 L811.3 485.8 L811.6 487.4 L812.8 486.8 L812.5 489.9 L813.4 490 L813.8 491.6 L814.6 492 L814.2 495.3 L815 495.8 L815 498.1 L816.1 497.9 L817 498 L817.5 499.2 L818 500.4 L817.6 503.7 L818.8 503.1 L819.3 504.2 L819.5 506.2 L820.3 506.6 L820.4 508.7 L820.7 510.4 L821.2 511.6 L822.2 511.5 L822.7 512.6 L822.8 514.7 L823.1 516.5 L823.8 517.1 L824.1 518.7 L824.2 520.9 L825.4 520.2 L825.7 521.9 L825.9 523.9 L826.2 525.4 L826.3 527.6 L827.1 528 L827.4 529.6 L828.2 530.3 L828.2 532.5 L828.5 534 L829.6 534 L830.2 534.8 L830.5 536.5 L830.8 538 L830.7 540.6 L831.8 540.5 L831.7 542.9 L832 544.4 L832 546.7 L833.4 546 L833.1 549 L834 549.2 L834.7 549.9 L834.5 552.6 L834.6 554.6 L835.3 555.4 L836.2 555.5 L835.6 559.1 L836.7 559 L836.9 561 L837.2 562.5 L838.2 562.5 L838.5 564.1 L839 565.1 L839.7 565.8 L840.1 567.4 L839.7 570.6 L840.3 571.4 L840.1 573.8 L841.5 572.8 L841.8 574.4 L842.4 575 L842 578.1 L842.4 579.2 L842.6 580.9 L843.3 581.4 L844.1 581.7 L844.1 583.7 L844.7 584.5 L845.3 585.3 L845.1 587.9 L845.7 588.5 L846.3 589.3 L846.2 591.6 L846.2 593.8 L846.7 594.9 L847.7 594.9 L848.5 595.1 L848 598.3 L849 598.2 L848.8 600.8 L849.7 601 L849.1 604.4 L850.1 604.3 L850.6 605.2 L851.2 606 L851.3 607.9 L851.2 610.1 L852.2 610 L852.8 610.9 L852.7 613.2 L852.4 615.7 L853.3 616 L853.4 617.8 L853.5 619.7 L854.6 619.4 L854.4 621.6 L855 622.4 L855.7 622.9 L856 624.1 L855.3 627.6 L856.2 627.7 L856.5 628.8 L856.4 631.1 L857.1 631.5 L857.4 632.7 L858 633.6 L857.7 636 L858.5 636.2 L858.5 638.1 L858.5 640.2 L858.9 641.2 L859.7 641.5 L859.9 643 L859.6 645.3 L859.9 646.7 L860.9 646.6 L860.2 649.7 L861.6 649 L861.9 650.3 L862.2 651.6 L862 653.8 L862 655.7 L861.9 657.7 L863 657.4 L862.7 659.9 L863.6 659.9 L863.4 662.2 L864.1 662.7 L864.3 664.2 L864.9 664.8 L864.5 667.5 L865.5 667.4 L865.1 670.1 L865.8 670.4 L865.8 672.4 L865.9 674 L866.3 675.1 L866 677.5 L866.2 679 L867.2 678.9 L867.4 680.3 L867.1 682.9 L868.2 682.7 L868 684.8 L868.3 686.3 L867.8 689 L869 688.5 L868.7 691 L868.9 692.6 L869.2 693.8 L870.3 693.5 L869.6 696.8 L870.7 696.6 L870.4 699 L870.9 699.8 L871.5 700.6 L871.3 702.7 L871.8 703.6 L872.3 704.4 L872 706.7 L872.4 707.7 L872.4 709.4 L872.9 710.1 L873.1 711.5 L874.3 711.1 L874.2 713.1 L874.9 713.3 L874.3 716.4 L874.5 717.7 L874.6 719.3 L875.7 719 L875.4 721.6 L875.7 723 L876.4 723.5 L876.6 725.1 L876 728.2 L876.4 729.2 L877.3 729.4 L877.4 731.2 L877.8 732.3 L878.4 733 L878.4 735.1 L879 735.8 L879.1 737.4 L879.6 738.4 L879.4 740.7" stroke="#000" stroke-width="7.3"/>
<path d="M881 740.7 L884.1 740.9 L887.3 739.9 L890.4 740.5 L893.5 741.1 L896.7 740.6 L899.8 741.1 L903 740.1 L906.1 740.2 L909.2 740 L912.4 740.7 L915.5 740.7" stroke="#000" stroke-width="13"/>
<path d="M314.8 496.5 L315.8 534.5" stroke="#000" stroke-width="5.2"/>
<path d="M421.9 327 L422.6 363" stroke="#000" stroke-width="5.4"/>
<path d="M565.2 245 L565.4 251.5" stroke="#000" stroke-width="5.5"/>
</g>
<path d="M895.5 274.4 H972.9" stroke="#000" stroke-width="6.8"/>
<path d="M895.5 317.4 H972.9" stroke="#f00" stroke-width="6.8"/>
</g>
<text transform="translate(982.5 286.1) scale(1.0 1.07)" font-size="35" font-weight="normal" fill="#000" text-anchor="start">Y-axis</text>
<text transform="translate(981.5 328.8) scale(0.97 1.07)" font-size="35" font-weight="normal" fill="#000" text-anchor="start">X-axis</text>
<defs>
<linearGradient id="domeG" gradientUnits="userSpaceOnUse" x1="0" y1="605" x2="0" y2="721">
<stop offset="0.000" stop-color="#ba200e"/>
<stop offset="0.103" stop-color="#b0260f"/>
<stop offset="0.172" stop-color="#a04812"/>
<stop offset="0.224" stop-color="#8c7816"/>
<stop offset="0.276" stop-color="#6c981e"/>
<stop offset="0.345" stop-color="#3e9e2a"/>
<stop offset="0.422" stop-color="#1f9640"/>
<stop offset="0.500" stop-color="#128a60"/>
<stop offset="0.569" stop-color="#107a88"/>
<stop offset="0.638" stop-color="#1064aa"/>
<stop offset="0.707" stop-color="#0f4aa8"/>
<stop offset="0.784" stop-color="#0d3090"/>
<stop offset="0.871" stop-color="#0b1e72"/>
<stop offset="1.000" stop-color="#081152"/>
</linearGradient>
<linearGradient id="domeShade" gradientUnits="userSpaceOnUse" x1="447" y1="0" x2="743" y2="0"><stop offset="0" stop-color="#3fd0c0" stop-opacity="0.22"/><stop offset="0.2" stop-color="#fff" stop-opacity="0.05"/><stop offset="0.55" stop-color="#000" stop-opacity="0"/><stop offset="0.85" stop-color="#000" stop-opacity="0.26"/><stop offset="1" stop-color="#000" stop-opacity="0.42"/></linearGradient>
<filter id="rough" x="-5%" y="-5%" width="110%" height="110%" color-interpolation-filters="sRGB"><feTurbulence type="fractalNoise" baseFrequency="0.55 0.22" numOctaves="2" seed="3" result="n"/><feColorMatrix in="n" type="matrix" values="0 0 0 0 0  0 0 0 0 0.03  0 0 0 0 0.12  1.2 0 0 0 -0.52" result="a"/><feComposite in="a" in2="SourceGraphic" operator="in" result="dark"/><feColorMatrix in="n" type="matrix" values="0 0 0 0 1  0 0 0 0 1  0 0 0 0 0.7  0 0.6 0 0 -0.36" result="b"/><feComposite in="b" in2="SourceGraphic" operator="in" result="light"/><feMerge><feMergeNode in="SourceGraphic"/><feMergeNode in="dark"/><feMergeNode in="light"/></feMerge></filter>
<filter id="edge" x="-5%" y="-5%" width="110%" height="110%"><feTurbulence type="fractalNoise" baseFrequency="0.6" numOctaves="1" seed="5" result="n"/><feDisplacementMap in="SourceGraphic" in2="n" scale="1.6" xChannelSelector="R" yChannelSelector="G"/></filter>
</defs>
<g id="domeInset">
<g stroke="#c6c6c6" stroke-width="1" fill="none">
<line x1="445" y1="581.5" x2="445" y2="722"/>
<line x1="451.3" y1="586.6" x2="451.3" y2="718"/>
<line x1="457.7" y1="591.7" x2="457.7" y2="714"/>
<line x1="464" y1="596.8" x2="464" y2="710"/>
<line x1="470.3" y1="601.9" x2="470.3" y2="706"/>
<line x1="476.7" y1="607.1" x2="476.7" y2="702"/>
<line x1="483" y1="612.2" x2="483" y2="698"/>
<line x1="489.3" y1="617.3" x2="489.3" y2="694"/>
<line x1="495.7" y1="622.4" x2="495.7" y2="690"/>
<line x1="502" y1="627.5" x2="502" y2="686"/>
<line x1="445" y1="581.5" x2="502" y2="627.5"/>
<line x1="445" y1="604.9" x2="502" y2="637.2"/>
<line x1="445" y1="628.3" x2="502" y2="647"/>
<line x1="445" y1="651.8" x2="502" y2="656.8"/>
<line x1="445" y1="675.2" x2="502" y2="666.5"/>
<line x1="445" y1="698.6" x2="502" y2="676.2"/>
<line x1="445" y1="722" x2="502" y2="686"/>
<line x1="502" y1="627.5" x2="714" y2="627.5"/>
<line x1="502" y1="642.1" x2="714" y2="642.1"/>
<line x1="502" y1="656.8" x2="714" y2="656.8"/>
<line x1="502" y1="671.4" x2="714" y2="671.4"/>
<line x1="502" y1="686" x2="714" y2="686"/>
<line x1="514" y1="627.5" x2="514" y2="686"/>
<line x1="526" y1="627.5" x2="526" y2="686"/>
<line x1="538" y1="627.5" x2="538" y2="686"/>
<line x1="550" y1="627.5" x2="550" y2="686"/>
<line x1="562" y1="627.5" x2="562" y2="686"/>
<line x1="714" y1="628" x2="714" y2="686"/>
<line x1="718.8" y1="625.2" x2="718.8" y2="687"/>
<line x1="723.5" y1="622.3" x2="723.5" y2="688"/>
<line x1="728.2" y1="619.5" x2="728.2" y2="689"/>
<line x1="733" y1="616.7" x2="733" y2="690"/>
<line x1="737.8" y1="613.8" x2="737.8" y2="691"/>
<line x1="742.5" y1="611" x2="742.5" y2="692"/>
<line x1="714" y1="628" x2="742.5" y2="611"/>
<line x1="714" y1="639.6" x2="742.5" y2="627.2"/>
<line x1="714" y1="651.2" x2="742.5" y2="643.4"/>
<line x1="714" y1="662.8" x2="742.5" y2="659.6"/>
<line x1="714" y1="674.4" x2="742.5" y2="675.8"/>
<line x1="714" y1="686" x2="742.5" y2="692"/>
</g>
<line x1="444.5" y1="722.6" x2="700" y2="722.6" stroke="#bdbdbd" stroke-width="1.4"/>
<line x1="444.5" y1="724.2" x2="700" y2="724.2" stroke="#e6e6e6" stroke-width="1.4"/>
<defs><linearGradient id="spk1" gradientUnits="userSpaceOnUse" x1="0" y1="629" x2="0" y2="720"><stop offset="0" stop-color="#a8482c"/><stop offset="0.12" stop-color="#8a5a30"/><stop offset="0.2" stop-color="#2f8a3c"/><stop offset="0.5" stop-color="#1d7a50"/><stop offset="0.7" stop-color="#123a78"/><stop offset="1" stop-color="#0a1a58"/></linearGradient><linearGradient id="spk2" gradientUnits="userSpaceOnUse" x1="0" y1="665" x2="0" y2="720"><stop offset="0" stop-color="#2a8aa0"/><stop offset="0.4" stop-color="#1a58a8"/><stop offset="1" stop-color="#0a1c66"/></linearGradient></defs>
<path d="M478.4 720 L479.7 629 L481.5 629 L482.8 720 Z" fill="url(#spk1)" fill-opacity="1"/>
<path d="M481.2 720 L482.4 643 L484 643 L485.2 720 Z" fill="url(#spk1)" fill-opacity="1"/>
<path d="M473.5 720 L475.6 688 L476.4 688 L478.5 720 Z" fill="url(#spk2)" fill-opacity="1"/>
<path d="M469.8 720 L471.6 694 L472.4 694 L474.2 720 Z" fill="url(#spk2)" fill-opacity="1"/>
<path d="M462.4 720 L464.9 665 L465.8 665 L468.4 720 Z" fill="url(#spk2)" fill-opacity="1"/>
<path d="M460.4 720 L462.6 680 L463.4 680 L465.6 720 Z" fill="url(#spk2)" fill-opacity="1"/>
<path d="M465.2 720 L467.6 688 L468.4 688 L470.8 720 Z" fill="url(#spk2)" fill-opacity="1"/>
<path d="M452 720 L453.6 696 L454.4 696 L456 720 Z" fill="#1c3f9c" fill-opacity="1"/>
<path d="M455.9 720 L457.6 697 L458.4 697 L460.1 720 Z" fill="#1a3a96" fill-opacity="1"/>
<path d="M447.2 720 L448.6 704 L449.4 704 L450.8 720 Z" fill="#1c3f8c" fill-opacity="1"/>
<path d="M449.9 720 L451.1 708 L451.9 708 L453.1 720 Z" fill="#17358a" fill-opacity="1"/>
<path d="M444.6 721 L445.2 712 L446.1 712 L446.6 721 Z" fill="#556" fill-opacity="1"/>
<path d="M707.3 650 L707.9 624.5 L708.9 624.5 L709.5 650 Z" fill="#b5673c" fill-opacity="1"/>
<path d="M709.9 652 L710.8 629 L711.7 629 L712.5 652 Z" fill="#a8502c" fill-opacity="1"/>
<path d="M713 655 L713.5 628 L714.5 628 L715 655 Z" fill="#c89868" fill-opacity="1"/>
<path d="M735.6 690 L736 668 L737 668 L737.4 690 Z" fill="#3a8a5a" fill-opacity="1"/>
<g filter="url(#edge)">
<path d="M447 721 L447 718.5 L453 716.5 L459 714 L464 711 L468.5 706.5 L472 700.5 L475 694 L478 687.5 L483.7 680.2 L489.5 670 L496.4 660.5 L503 651.5 L510.5 643.6 L517 637 L524.6 630.9 L531 626 L538.7 621.7 L545 618.3 L552.8 615.4 L566.9 611.1 L581 608.3 L595.1 606.6 L608 605.6 L620 605.2 L630 605.9 L638.3 607.3 L648 609.8 L657.4 613 L667 616.9 L676.5 621.6 L686 627 L695.6 633.1 L707.1 642.7 L718.6 654.2 L724.5 660.5 L730.1 667.5 L737.7 679 L742.6 686.7 L742.6 718.2 L700 718.2 L700 721 Z" fill="url(#domeG)" filter="url(#rough)"/>
<path d="M447 721 L447 718.5 L453 716.5 L459 714 L464 711 L468.5 706.5 L472 700.5 L475 694 L478 687.5 L483.7 680.2 L489.5 670 L496.4 660.5 L503 651.5 L510.5 643.6 L517 637 L524.6 630.9 L531 626 L538.7 621.7 L545 618.3 L552.8 615.4 L566.9 611.1 L581 608.3 L595.1 606.6 L608 605.6 L620 605.2 L630 605.9 L638.3 607.3 L648 609.8 L657.4 613 L667 616.9 L676.5 621.6 L686 627 L695.6 633.1 L707.1 642.7 L718.6 654.2 L724.5 660.5 L730.1 667.5 L737.7 679 L742.6 686.7 L742.6 718.2 L700 718.2 L700 721 Z" fill="url(#domeShade)"/>
</g>
<path d="M640 678 Q690 679.5 741 680.5" stroke="#58b8b0" stroke-opacity="0.55" stroke-width="0.8" fill="none"/>
<path d="M676.7 677 L677.7 669 L678.3 669 L679.3 677 Z" fill="#52b8a8" fill-opacity="0.5599999999999999"/>
<path d="M680 678 L680.7 670 L681.3 670 L682 678 Z" fill="#52b8a8" fill-opacity="0.5599999999999999"/>
<path d="M685.2 684 L685.7 673 L686.3 673 L686.8 684 Z" fill="#4ab0b0" fill-opacity="0.48999999999999994"/>
<path d="M698 700 L698.7 673 L699.3 673 L700 700 Z" fill="#3a78d0" fill-opacity="0.5249999999999999"/>
<path d="M703 706 L703.7 672 L704.3 672 L705 706 Z" fill="#3a70c8" fill-opacity="0.5249999999999999"/>
<path d="M693.8 712 L694.7 690 L695.3 690 L696.2 712 Z" fill="#2a58c0" fill-opacity="0.48999999999999994"/>
<path d="M609.1 706 L609.7 694 L610.3 694 L610.9 706 Z" fill="#2a50b8" fill-opacity="0.42"/>
<path d="M636.1 716 L636.7 700 L637.3 700 L637.9 716 Z" fill="#2848b0" fill-opacity="0.42"/>
<path d="M519.2 702 L519.7 690 L520.3 690 L520.8 702 Z" fill="#2a58b8" fill-opacity="0.35"/>
<rect x="742.6" y="609.2" width="16.2" height="8.1" fill="#f02a1a"/>
<rect x="742.6" y="617" width="16.2" height="8.9" fill="#d45a14"/>
<rect x="742.6" y="625.6" width="16.2" height="10.7" fill="#c47c12"/>
<rect x="742.6" y="636" width="16.2" height="15.6" fill="#84a012"/>
<rect x="742.6" y="651.3" width="16.2" height="17.5" fill="#2ccc3a"/>
<rect x="742.6" y="668.5" width="16.2" height="16.6" fill="#12c68a"/>
<rect x="742.6" y="684.8" width="16.2" height="7.9" fill="#22a8e6"/>
<rect x="742.6" y="692.4" width="16.2" height="11.9" fill="#1484ea"/>
<rect x="742.6" y="704" width="16.2" height="14" fill="#1262d8"/>
<line x1="742.6" y1="668.5" x2="758.8" y2="668.5" stroke="#8fa8a0" stroke-width="0.9"/>
<line x1="742.6" y1="692.4" x2="758.8" y2="692.4" stroke="#8fa8a0" stroke-width="0.9"/>
<rect x="758.8" y="692" width="1.6" height="26" fill="#2a58b0"/>
<line x1="759.7" y1="566" x2="759.7" y2="574" stroke="#9fd0ee" stroke-width="1"/>
<text transform="translate(759.3 599.6) scale(1.11 1.0)" font-size="21.4" font-weight="normal" fill="#000" text-anchor="end">8.00</text>
<text transform="translate(757.3 744.1) scale(1.11 1.0)" font-size="21.4" font-weight="normal" fill="#000" text-anchor="end">-2.00</text>
<text x="704" y="601.4" font-size="8.5" font-weight="bold" fill="#4d7a52" font-family="'Liberation Sans', sans-serif">8./</text>
</g>
<line x1="503.9" y1="635.6" x2="335.1" y2="535" stroke="#000" stroke-width="1.0"/>
<path d="M323.5 528.1 L337.3 531.3 L332.9 538.7 Z" fill="#000"/>
<line x1="578.4" y1="713" x2="390.9" y2="613" stroke="#f00" stroke-width="1.0"/>
<path d="M379 606.6 L392.9 609.2 L388.9 616.7 Z" fill="#f00"/>
</g>
<g id="chartB">
<g stroke="#2e2e2e" stroke-width="1.15" fill="none">
<line x1="1491.5" y1="101.3" x2="2410.1" y2="101.3"/>
<line x1="2409.6" y1="101.3" x2="2409.6" y2="790.2"/>
</g>
<g stroke="#000" stroke-width="2.8" fill="none">
<line x1="1491.5" y1="100.8" x2="1491.5" y2="791.6"/>
<line x1="1490.1" y1="790.2" x2="2410.1" y2="790.2"/>
</g>
<g stroke="#000" stroke-width="2.6" fill="none" stroke-linecap="butt">
<line x1="1491.5" y1="790.2" x2="1491.5" y2="776.2"/>
<line x1="1552.7" y1="790.2" x2="1552.7" y2="782.7"/>
<line x1="1613.9" y1="790.2" x2="1613.9" y2="776.2"/>
<line x1="1675.1" y1="790.2" x2="1675.1" y2="782.7"/>
<line x1="1736.3" y1="790.2" x2="1736.3" y2="776.2"/>
<line x1="1797.5" y1="790.2" x2="1797.5" y2="782.7"/>
<line x1="1858.7" y1="790.2" x2="1858.7" y2="776.2"/>
<line x1="1919.9" y1="790.2" x2="1919.9" y2="782.7"/>
<line x1="1981.2" y1="790.2" x2="1981.2" y2="776.2"/>
<line x1="2042.4" y1="790.2" x2="2042.4" y2="782.7"/>
<line x1="2103.6" y1="790.2" x2="2103.6" y2="776.2"/>
<line x1="2164.8" y1="790.2" x2="2164.8" y2="782.7"/>
<line x1="2226" y1="790.2" x2="2226" y2="776.2"/>
<line x1="2287.2" y1="790.2" x2="2287.2" y2="782.7"/>
<line x1="2348.4" y1="790.2" x2="2348.4" y2="776.2"/>
<line x1="2409.6" y1="790.2" x2="2409.6" y2="782.7"/>
</g>
<g stroke="#000" stroke-width="2.9" fill="none" stroke-linecap="butt">
<line x1="1491.5" y1="742.8" x2="1505.5" y2="742.8"/>
<line x1="1491.5" y1="694.8" x2="1499" y2="694.8"/>
<line x1="1491.5" y1="646.9" x2="1505.5" y2="646.9"/>
<line x1="1491.5" y1="598.9" x2="1499" y2="598.9"/>
<line x1="1491.5" y1="551" x2="1505.5" y2="551"/>
<line x1="1491.5" y1="503.1" x2="1499" y2="503.1"/>
<line x1="1491.5" y1="455.1" x2="1505.5" y2="455.1"/>
<line x1="1491.5" y1="407.2" x2="1499" y2="407.2"/>
<line x1="1491.5" y1="359.2" x2="1505.5" y2="359.2"/>
<line x1="1491.5" y1="311.3" x2="1499" y2="311.3"/>
<line x1="1491.5" y1="263.3" x2="1505.5" y2="263.3"/>
<line x1="1491.5" y1="215.4" x2="1499" y2="215.4"/>
<line x1="1491.5" y1="167.4" x2="1505.5" y2="167.4"/>
<line x1="1491.5" y1="119.5" x2="1499" y2="119.5"/>
</g>
<text transform="translate(1491.5 845.7) scale(1.0 1.05)" font-size="52.3" font-weight="bold" fill="#000" text-anchor="middle">0</text>
<text transform="translate(1613.9 845.7) scale(1.0 1.05)" font-size="52.3" font-weight="bold" fill="#000" text-anchor="middle">200</text>
<text transform="translate(1736.3 845.7) scale(1.0 1.05)" font-size="52.3" font-weight="bold" fill="#000" text-anchor="middle">400</text>
<text transform="translate(1858.7 845.7) scale(1.0 1.05)" font-size="52.3" font-weight="bold" fill="#000" text-anchor="middle">600</text>
<text transform="translate(1981.2 845.7) scale(1.0 1.05)" font-size="52.3" font-weight="bold" fill="#000" text-anchor="middle">800</text>
<text transform="translate(2103.6 845.7) scale(1.0 1.05)" font-size="52.3" font-weight="bold" fill="#000" text-anchor="middle">1000</text>
<text transform="translate(2226 845.7) scale(1.0 1.05)" font-size="52.3" font-weight="bold" fill="#000" text-anchor="middle">1200</text>
<text transform="translate(2348.4 845.7) scale(1.0 1.05)" font-size="52.3" font-weight="bold" fill="#000" text-anchor="middle">1400</text>
<text transform="translate(1477.8 758) scale(1.0 1.05)" font-size="52.3" font-weight="bold" fill="#000" text-anchor="end">-16</text>
<text transform="translate(1477.8 662.1) scale(1.0 1.05)" font-size="52.3" font-weight="bold" fill="#000" text-anchor="end">-8</text>
<text transform="translate(1477.8 566.2) scale(1.0 1.05)" font-size="52.3" font-weight="bold" fill="#000" text-anchor="end">0</text>
<text transform="translate(1477.8 470.3) scale(1.0 1.05)" font-size="52.3" font-weight="bold" fill="#000" text-anchor="end">8</text>
<text transform="translate(1477.8 374.4) scale(1.0 1.05)" font-size="52.3" font-weight="bold" fill="#000" text-anchor="end">16</text>
<text transform="translate(1477.8 278.5) scale(1.0 1.05)" font-size="52.3" font-weight="bold" fill="#000" text-anchor="end">24</text>
<text transform="translate(1477.8 182.6) scale(1.0 1.05)" font-size="52.3" font-weight="bold" fill="#000" text-anchor="end">32</text>
<text transform="translate(1950.5 921.7) scale(1.0 1.05)" font-size="51.7" font-weight="bold" fill="#000" text-anchor="middle">micrometers</text>
<text transform="translate(1376.7 481.2) rotate(-90) scale(1.05 1.0)" font-size="51.5" font-weight="bold" fill="#000" text-anchor="middle">micrometers</text>
<text transform="translate(1288.6 148.4)" font-size="72.2" font-weight="normal" fill="#000" text-anchor="start">(b)</text>
<defs>
<clipPath id="gclip"><rect x="1676.1" y="629" width="178.1" height="154"/></clipPath>
<filter id="streak" x="0" y="0" width="100%" height="100%" color-interpolation-filters="sRGB"><feTurbulence type="fractalNoise" baseFrequency="0.03 0.3" numOctaves="3" seed="11" result="n"/><feColorMatrix in="n" type="matrix" values="0 0 0 0 0.02  0 0 0 0 0.36  0 0 0 0 0.1  2.4 0 0 0 -1.25"/></filter>
<filter id="streakL" x="0" y="0" width="100%" height="100%" color-interpolation-filters="sRGB"><feTurbulence type="fractalNoise" baseFrequency="0.03 0.32" numOctaves="2" seed="23" result="n"/><feColorMatrix in="n" type="matrix" values="0 0 0 0 0.2  0 0 0 0 0.95  0 0 0 0 0.4  0 2.0 0 0 -1.15"/></filter>
<filter id="blur1" x="-30%" y="-30%" width="160%" height="160%"><feGaussianBlur stdDeviation="3.4"/></filter>
<radialGradient id="cg" cx="0.5" cy="0.5" r="0.5"><stop offset="0" stop-color="#1f9836"/><stop offset="0.75" stop-color="#1b9032"/><stop offset="1" stop-color="#13802a"/></radialGradient>
</defs>
<g clip-path="url(#gclip)">
<rect x="1676.1" y="629" width="178.1" height="154" fill="#12c63e"/>
<g filter="url(#blur1)" stroke="#07521a" stroke-linecap="round" fill="none" opacity="0.95">
<line x1="1765.2" y1="640.4" x2="1799.6" y2="661.8" stroke-width="16.799999999999997"/>
<line x1="1800.2" y1="644.2" x2="1816.2" y2="654.2" stroke-width="12.6"/>
<line x1="1678.8" y1="664.5" x2="1706.2" y2="681.7" stroke-width="16.799999999999997"/>
<line x1="1725.1" y1="671.6" x2="1747.9" y2="686" stroke-width="18.2"/>
<line x1="1772.5" y1="662.4" x2="1788.5" y2="672.4" stroke-width="14.0"/>
<line x1="1673.8" y1="684.8" x2="1703.6" y2="703.4" stroke-width="16.799999999999997"/>
<line x1="1700.2" y1="683.4" x2="1734.6" y2="704.8" stroke-width="16.799999999999997"/>
<line x1="1790.3" y1="684.1" x2="1822.3" y2="704.1" stroke-width="16.799999999999997"/>
<line x1="1815.7" y1="678.6" x2="1840.9" y2="694.4" stroke-width="15.399999999999999"/>
<line x1="1832.2" y1="686.9" x2="1855" y2="701.3" stroke-width="15.399999999999999"/>
<line x1="1683.6" y1="711.1" x2="1699.6" y2="721.1" stroke-width="12.6"/>
<line x1="1771" y1="723.8" x2="1816.8" y2="752.4" stroke-width="19.599999999999998"/>
<line x1="1828" y1="731.4" x2="1855.4" y2="748.6" stroke-width="15.399999999999999"/>
<line x1="1767.2" y1="753.9" x2="1790" y2="768.3" stroke-width="16.799999999999997"/>
<line x1="1728.5" y1="767.6" x2="1744.5" y2="777.6" stroke-width="12.6"/>
<line x1="1709.7" y1="768.5" x2="1744.1" y2="789.9" stroke-width="9.799999999999999"/>
<line x1="1751.8" y1="764.9" x2="1797.6" y2="793.5" stroke-width="9.799999999999999"/>
<line x1="1815.3" y1="757.3" x2="1833.7" y2="768.7" stroke-width="12.6"/>
<line x1="1725.8" y1="644.3" x2="1744.2" y2="655.7" stroke-width="11.2"/>
<line x1="1689.7" y1="645.6" x2="1710.3" y2="658.4" stroke-width="11.2"/>
<line x1="1709.4" y1="700.1" x2="1734.6" y2="715.9" stroke-width="12.6"/>
<line x1="1744" y1="695" x2="1760" y2="705" stroke-width="11.2"/>
<line x1="1802.8" y1="712.3" x2="1821.2" y2="723.7" stroke-width="12.6"/>
<line x1="1678.6" y1="734.8" x2="1701.4" y2="749.2" stroke-width="11.2"/>
<line x1="1843.1" y1="655.7" x2="1856.9" y2="664.3" stroke-width="11.2"/>
<line x1="1758.1" y1="685.7" x2="1771.9" y2="694.3" stroke-width="9.799999999999999"/>
</g>
<g filter="url(#blur1)" stroke="#22ea5a" stroke-linecap="round" fill="none" opacity="0.6">
<line x1="1679" y1="639" x2="1721" y2="663" stroke-width="8"/>
<line x1="1723" y1="729" x2="1759" y2="776" stroke-width="11"/>
<line x1="1819" y1="641" x2="1832" y2="667" stroke-width="8"/>
<line x1="1823" y1="702" x2="1828" y2="744" stroke-width="8"/>
<line x1="1680" y1="765" x2="1700" y2="780" stroke-width="9"/>
<line x1="1775" y1="640" x2="1788" y2="646" stroke-width="6"/>
<line x1="1765" y1="700" x2="1785" y2="712" stroke-width="8"/>
</g>
<g fill="#04200c" fill-opacity="0.8">
<circle cx="1804.7" cy="643.3" r="0.5"/>
<circle cx="1799.7" cy="651.8" r="0.7"/>
<circle cx="1807.7" cy="644" r="0.6"/>
<circle cx="1797.4" cy="645.6" r="0.7"/>
<circle cx="1797.3" cy="645.4" r="0.7"/>
<circle cx="1803.5" cy="645.6" r="0.7"/>
<circle cx="1806.7" cy="643.1" r="0.8"/>
<circle cx="1805.4" cy="647.1" r="0.5"/>
<circle cx="1808.5" cy="647" r="0.4"/>
<circle cx="1798.2" cy="653.2" r="0.7"/>
<circle cx="1832.3" cy="686.2" r="0.7"/>
<circle cx="1834.6" cy="681.3" r="0.7"/>
<circle cx="1832.6" cy="684.7" r="0.8"/>
<circle cx="1829.1" cy="685.9" r="0.4"/>
<circle cx="1824.2" cy="680.1" r="0.4"/>
<circle cx="1824.3" cy="677.4" r="0.5"/>
<circle cx="1829.9" cy="681.1" r="0.6"/>
<circle cx="1823.9" cy="679.7" r="0.9"/>
<circle cx="1830.1" cy="684.5" r="0.5"/>
<circle cx="1831.2" cy="678.3" r="0.6"/>
<circle cx="1834.9" cy="685" r="0.7"/>
<circle cx="1830.6" cy="687.8" r="0.8"/>
<circle cx="1824.2" cy="676.4" r="0.6"/>
<circle cx="1824.7" cy="679" r="0.9"/>
<circle cx="1849" cy="739" r="0.7"/>
<circle cx="1841.3" cy="748.6" r="0.6"/>
<circle cx="1839.2" cy="737.9" r="0.7"/>
<circle cx="1839.2" cy="743.4" r="0.8"/>
<circle cx="1841.4" cy="737.5" r="0.9"/>
<circle cx="1843.2" cy="735.5" r="0.4"/>
<circle cx="1836.8" cy="744" r="0.8"/>
<circle cx="1841.8" cy="735" r="0.6"/>
<circle cx="1850.9" cy="742.5" r="0.9"/>
<circle cx="1848.8" cy="734.2" r="0.8"/>
<circle cx="1845.9" cy="742.6" r="0.5"/>
<circle cx="1845.3" cy="735.8" r="0.6"/>
<circle cx="1842.3" cy="749.3" r="0.8"/>
<circle cx="1839.2" cy="742" r="0.5"/>
<circle cx="1830.1" cy="768.7" r="0.5"/>
<circle cx="1827.4" cy="766.1" r="0.5"/>
<circle cx="1828.6" cy="765.4" r="0.8"/>
<circle cx="1826.3" cy="760" r="0.6"/>
<circle cx="1821.2" cy="769.3" r="0.8"/>
<circle cx="1829.3" cy="763.1" r="0.4"/>
<circle cx="1829.8" cy="769.5" r="0.4"/>
<circle cx="1825.9" cy="760.7" r="0.8"/>
<circle cx="1841.2" cy="692.5" r="0.6"/>
<circle cx="1838.6" cy="694.2" r="0.8"/>
<circle cx="1837.1" cy="693.5" r="0.7"/>
<circle cx="1840.8" cy="693.4" r="0.6"/>
<circle cx="1843.9" cy="698.8" r="0.6"/>
<circle cx="1838.2" cy="692.5" r="0.5"/>
<circle cx="1836.1" cy="698.1" r="0.5"/>
<circle cx="1834.6" cy="691.9" r="0.7"/>
</g>
<g transform="rotate(32 1765 706)"><rect x="1600" y="540" width="330" height="330" filter="url(#streak)"/><rect x="1600" y="540" width="330" height="330" filter="url(#streakL)"/></g>
<circle cx="1669.6" cy="630.2" r="13.7" fill="url(#cg)" fill-opacity="0.93"/>
<circle cx="1713.5" cy="630.2" r="13.7" fill="url(#cg)" fill-opacity="0.93"/>
<circle cx="1757.4" cy="630.2" r="13.7" fill="url(#cg)" fill-opacity="0.93"/>
<circle cx="1802" cy="630.2" r="13.7" fill="url(#cg)" fill-opacity="0.93"/>
<circle cx="1845.3" cy="630.2" r="13.7" fill="url(#cg)" fill-opacity="0.93"/>
<circle cx="1669.6" cy="672.2" r="13.7" fill="url(#cg)" fill-opacity="0.93"/>
<circle cx="1713.5" cy="672.2" r="13.7" fill="url(#cg)" fill-opacity="0.93"/>
<circle cx="1757.4" cy="672.2" r="13.7" fill="url(#cg)" fill-opacity="0.93"/>
<circle cx="1802" cy="672.2" r="13.7" fill="url(#cg)" fill-opacity="0.93"/>
<circle cx="1845.3" cy="672.2" r="13.7" fill="url(#cg)" fill-opacity="0.93"/>
<circle cx="1669.6" cy="716" r="13.7" fill="url(#cg)" fill-opacity="0.93"/>
<circle cx="1713.5" cy="716" r="13.7" fill="url(#cg)" fill-opacity="0.93"/>
<circle cx="1757.4" cy="716" r="13.7" fill="url(#cg)" fill-opacity="0.93"/>
<circle cx="1802" cy="716" r="13.7" fill="url(#cg)" fill-opacity="0.93"/>
<circle cx="1845.3" cy="716" r="13.7" fill="url(#cg)" fill-opacity="0.93"/>
<circle cx="1669.6" cy="760.8" r="13.7" fill="url(#cg)" fill-opacity="0.93"/>
<circle cx="1713.5" cy="760.8" r="13.7" fill="url(#cg)" fill-opacity="0.93"/>
<circle cx="1757.4" cy="760.8" r="13.7" fill="url(#cg)" fill-opacity="0.93"/>
<circle cx="1802" cy="760.8" r="13.7" fill="url(#cg)" fill-opacity="0.93"/>
<circle cx="1845.3" cy="760.8" r="13.7" fill="url(#cg)" fill-opacity="0.93"/>
<g stroke="#ea2616" stroke-width="2" fill="none" shape-rendering="crispEdges">
<line x1="1676.1" y1="686" x2="1854.2" y2="686"/>
<line x1="1757" y1="629" x2="1757" y2="783"/>
</g>
<g stroke="#ea2616" stroke-width="1.2" fill="none">
<line x1="1677.2" y1="684.2" x2="1677.2" y2="687.8"/>
<line x1="1716.3" y1="684.2" x2="1716.3" y2="687.8"/>
<line x1="1795.3" y1="684.2" x2="1795.3" y2="687.8"/>
<line x1="1834.5" y1="684.2" x2="1834.5" y2="687.8"/>
<line x1="1755" y1="656.3" x2="1759" y2="656.3"/>
<line x1="1755" y1="716" x2="1759" y2="716"/>
<line x1="1755" y1="746.3" x2="1759" y2="746.3"/>
<line x1="1755" y1="776.3" x2="1759" y2="776.3"/>
</g>
</g>
<rect x="1491" y="573.2" width="7.2" height="14.3" fill="#000"/>
<defs><clipPath id="clipB"><rect x="1490.9" y="101.3" width="918.1" height="688.9"/></clipPath></defs>
<g fill="none" stroke="#f00" stroke-linejoin="round" stroke-linecap="round">
<path d="M1491.5 580.4 L1534.7 580.4 L1540.4 540.6 L1547.6 492.3 L1554.9 434.3 L1562.1 376.4 L1570.8 313.6 L1581.4 258 L1592.1 217 L1601.7 187 L1610.4 168.6 L1619.1 158 L1627.3 155.1 L1637 161 L1646.7 173.5 L1654.9 192.8 L1663.6 219.4 L1673.2 258 L1681.9 299 L1690.1 342.6 L1697.4 390.9 L1704.6 444 L1710.9 492.3 L1716.7 540.6 L1721.5 580.4 L1828 580.4 L1852.5 578.6 L1859.7 516.5 L1867 453.7 L1874.2 395.7 L1881.4 342.6 L1890.1 284.6 L1898.4 238.7 L1908 207.3 L1917.7 183.1 L1927.3 168.6 L1935.6 163.8 L1944.3 166.2 L1953 175.9 L1962.6 195.2 L1972.3 219.4 L1981.9 253.2 L1990.1 289.4 L1998.4 337.7 L2006.1 386 L2012.9 434.3 L2020.1 487.5 L2028.8 535.8 L2037 580.4 L2151.5 580.4 L2163.1 531.2 L2175.2 478 L2181.5 429.7 L2187.3 381.3 L2194.5 333 L2202.3 289.5 L2211.5 246 L2221.6 209.7 L2232.2 183.2 L2241.9 169.6 L2250.1 163.8 L2258.8 164.8 L2268.5 173.5 L2278.2 190.4 L2287.8 217 L2297.5 250.8 L2306.2 289.5 L2314.4 337.8 L2324.1 410.3 L2331.3 468.3 L2337.1 526.3 L2342.4 580.4 L2380.6 580.4" stroke-width="7" clip-path="url(#clipB)"/>
<path d="M2204.4 627.9 H2282.6" stroke-width="7.5"/>
</g>
<text transform="translate(2291.5 639.6) scale(1.0 1.03)" font-size="35.2" font-weight="normal" fill="#000" text-anchor="start">Profile</text>
<line x1="1757" y1="683.5" x2="1697.2" y2="579.2" stroke="#f00" stroke-width="2.5"/>
<path d="M1689.7 566.2 L1701.7 576.6 L1692.7 581.8 Z" fill="#f00"/>
</g>
</svg></body></html>
